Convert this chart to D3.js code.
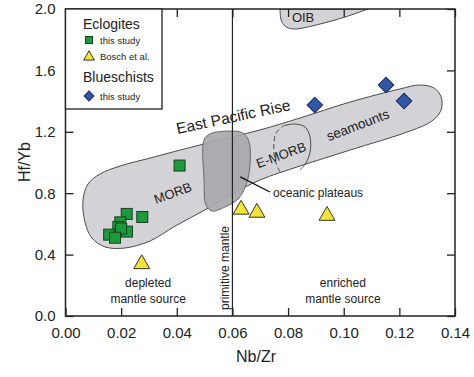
<!DOCTYPE html>
<html lang="en">
<head>
<meta charset="utf-8">
<title>Hf/Yb vs Nb/Zr</title>
<script src="https://cdn.jsdelivr.net/npm/d3@7"></script>
<style>
  body { margin: 0; background: #fff; }
  text { font-family: "Liberation Sans", Arial, sans-serif; fill: #222; }
</style>
</head>
<body>
<script>
var w = 474, h = 377;
var margin = {left: 65.5, right: 19, top: 9, bottom: 61};

// tick values
var xTicks = [0, 0.02, 0.04, 0.06, 0.08, 0.10, 0.12, 0.14];
var yTicks = [0, 0.4, 0.8, 1.2, 1.6, 2.0];

// samples [Nb/Zr, Hf/Yb]
var eclogites = [[0.041, 0.98], [0.022, 0.665], [0.0276, 0.645], [0.0197, 0.61],
                 [0.0190, 0.58], [0.0221, 0.55], [0.0157, 0.53], [0.0200, 0.57], [0.0178, 0.51]];
var bosch = [[0.0274, 0.345], [0.0631, 0.70], [0.0688, 0.68], [0.094, 0.66]];
var blueschists = [[0.0896, 1.375], [0.1152, 1.505], [0.1217, 1.40]];

// field outlines
var eprField = [[0.0081, 0.86], [0.0124, 0.925], [0.0196, 0.977], [0.0304, 1.029], [0.0412, 1.081],
                [0.0555, 1.147], [0.0699, 1.212], [0.0843, 1.29], [0.1023, 1.394], [0.1202, 1.479],
                [0.1274, 1.505], [0.1325, 1.485], [0.135, 1.427], [0.135, 1.342], [0.1317, 1.27],
                [0.1238, 1.205], [0.1023, 1.081], [0.0843, 0.977], [0.0699, 0.886], [0.0591, 0.788],
                [0.0501, 0.691], [0.0394, 0.586], [0.0304, 0.489], [0.0214, 0.443], [0.0142, 0.45],
                [0.0095, 0.508], [0.007, 0.612], [0.0063, 0.756]];
var plateauField = [[0.0498, 1.147], [0.0519, 1.186], [0.0591, 1.205], [0.0638, 1.192], [0.066, 1.134],
                    [0.0663, 0.984], [0.0649, 0.853], [0.062, 0.762], [0.0573, 0.71], [0.0527, 0.684],
                    [0.0505, 0.723], [0.0498, 0.886]];
var emorbDashed = [[0.0771, 0.938], [0.0753, 1.016], [0.0749, 1.114], [0.0757, 1.192], [0.0782, 1.238]];
var emorbSolid = [[0.0782, 1.238], [0.0825, 1.251], [0.0861, 1.231], [0.0879, 1.166],
                  [0.0879, 1.068], [0.0864, 0.997], [0.0843, 0.951]];
var oibField = [[0.0771, 2.0], [0.0775, 1.928], [0.0789, 1.889], [0.0818, 1.87],
                [0.0915, 1.902], [0.1005, 1.948], [0.1087, 2.0]];
var plateauLeader = [[0.0628, 0.906], [0.0735, 0.808]];
var primitiveMantle = 0.06;

var xScale = d3.scaleLinear().domain([0, 0.14]).range([margin.left, w - margin.right]);
var yScale = d3.scaleLinear().domain([0, 2.0]).range([h - margin.bottom, margin.top]);

var svg = d3.select("body").append("svg")
    .attr("width", w)
    .attr("height", h);

svg.append("defs").append("clipPath").attr("id", "plot")
    .append("rect")
    .attr("x", xScale(0)).attr("y", yScale(2))
    .attr("width", xScale(0.14) - xScale(0))
    .attr("height", yScale(0) - yScale(2));

var fields = svg.append("g").attr("clip-path", "url(#plot)");

var closedLine = d3.line()
    .x(function(d){ return xScale(d[0]); })
    .y(function(d){ return yScale(d[1]); })
    .curve(d3.curveCatmullRomClosed.alpha(0.5));
var openLine = d3.line()
    .x(function(d){ return xScale(d[0]); })
    .y(function(d){ return yScale(d[1]); })
    .curve(d3.curveCatmullRom.alpha(0.5));

fields.append("path")
    .attr("d", closedLine(eprField))
    .attr("fill", "#d3d3d7")
    .attr("stroke", "#4a4a4a")
    .attr("stroke-width", 1);

fields.append("path")
    .attr("d", closedLine(plateauField))
    .attr("fill", "#a7a7ad")
    .attr("fill-opacity", 0.92)
    .attr("stroke", "#6a6a6e")
    .attr("stroke-width", 1);

fields.append("path")
    .attr("d", openLine(emorbDashed))
    .attr("fill", "none")
    .attr("stroke", "#4a4a4a")
    .attr("stroke-dasharray", "5,3");
fields.append("path")
    .attr("d", openLine(emorbSolid))
    .attr("fill", "none")
    .attr("stroke", "#4a4a4a");

fields.append("path")
    .attr("d", openLine(oibField) + "Z")
    .attr("fill", "#d3d3d7")
    .attr("stroke", "#4a4a4a");

// primitive mantle line
svg.append("line")
    .attr("x1", xScale(primitiveMantle)).attr("x2", xScale(primitiveMantle))
    .attr("y1", yScale(0)).attr("y2", yScale(2))
    .attr("stroke", "#222")
    .attr("stroke-width", 1.2);

svg.append("line")
    .attr("x1", xScale(plateauLeader[0][0])).attr("y1", yScale(plateauLeader[0][1]))
    .attr("x2", xScale(plateauLeader[1][0])).attr("y2", yScale(plateauLeader[1][1]))
    .attr("stroke", "#111")
    .attr("stroke-width", 1.3);

// axes, ticks pointing inward
var fmtX = d3.format(".2f"), fmtY = d3.format(".1f");
var axisB = svg.append("g")
    .attr("transform", "translate(0," + yScale(0) + ")")
    .call(d3.axisBottom(xScale).tickValues(xTicks).tickFormat(fmtX).tickSizeInner(-8).tickSizeOuter(0).tickPadding(11));
var axisL = svg.append("g")
    .attr("transform", "translate(" + xScale(0) + ",0)")
    .call(d3.axisLeft(yScale).tickValues(yTicks).tickFormat(fmtY).tickSizeInner(-8).tickSizeOuter(0).tickPadding(10));
var axisT = svg.append("g")
    .attr("transform", "translate(0," + yScale(2) + ")")
    .call(d3.axisTop(xScale).tickValues(xTicks).tickFormat("").tickSizeInner(-8).tickSizeOuter(0));
var axisR = svg.append("g")
    .attr("transform", "translate(" + xScale(0.14) + ",0)")
    .call(d3.axisRight(yScale).tickValues(yTicks).tickFormat("").tickSizeInner(-8).tickSizeOuter(0));

[axisB, axisL, axisT, axisR].forEach(function(a){
    a.select(".domain").remove();
    a.selectAll("line").attr("stroke", "#222").attr("stroke-width", 1.3);
    a.selectAll("text").attr("font-size", "15px").attr("fill", "#222")
        .attr("font-family", "'Liberation Sans', Arial, sans-serif");
});

svg.append("rect")
    .attr("x", xScale(0)).attr("y", yScale(2))
    .attr("width", xScale(0.14) - xScale(0))
    .attr("height", yScale(0) - yScale(2))
    .attr("fill", "none")
    .attr("stroke", "#222")
    .attr("stroke-width", 1.5);

// markers
var tri = d3.symbol().type(d3.symbolTriangle).size(110);
var sq = 11;

svg.selectAll("rect.ecl")
    .data(eclogites)
    .enter()
    .append("rect")
    .attr("class", "ecl")
    .attr("x", function(d){ return xScale(d[0]) - sq / 2; })
    .attr("y", function(d){ return yScale(d[1]) - sq / 2; })
    .attr("width", sq).attr("height", sq)
    .attr("fill", "#1e9a3e")
    .attr("stroke", "#16401c")
    .attr("stroke-width", 1);

svg.selectAll("path.bosch")
    .data(bosch)
    .enter()
    .append("path")
    .attr("class", "bosch")
    .attr("d", tri)
    .attr("transform", function(d){ return "translate(" + xScale(d[0]) + "," + (yScale(d[1]) + 1) + ")"; })
    .attr("fill", "#f4e436")
    .attr("stroke", "#333")
    .attr("stroke-width", 1);

svg.selectAll("rect.blue")
    .data(blueschists)
    .enter()
    .append("rect")
    .attr("class", "blue")
    .attr("x", -5.5).attr("y", -5.5)
    .attr("width", 11).attr("height", 11)
    .attr("transform", function(d){ return "translate(" + xScale(d[0]) + "," + yScale(d[1]) + ") rotate(45)"; })
    .attr("fill", "#3257a6")
    .attr("stroke", "#1b2b5a")
    .attr("stroke-width", 1);

// field labels
function label(txt, x, y, size, angle, anchor, dy) {
    var px = xScale(x), py = yScale(y);
    svg.append("text")
        .attr("x", px).attr("y", py)
        .attr("dy", dy || 0)
        .attr("text-anchor", anchor || "middle")
        .attr("font-size", size + "px")
        .attr("transform", angle ? "rotate(" + angle + "," + px + "," + py + ")" : null)
        .text(txt);
}
label("East Pacific Rise", 0.0607, 1.264, 15.5, -12);
label("MORB", 0.0386, 0.801, 13, -20, "middle", "0.35em");
label("E-MORB", 0.0775, 1.049, 13, -20, "middle", "0.35em");
label("seamounts", 0.1051, 1.244, 13.5, -21, "middle", "0.35em");
label("oceanic plateaus", 0.0746, 0.775, 12, 0, "start");
label("OIB", 0.0854, 1.948, 13, 0, "middle", "0.35em");
label("primitive mantle", 0.0589, 0.313, 12, -90);
label("depleted", 0.0297, 0.191, 12);
label("mantle source", 0.0297, 0.085, 12);
label("enriched", 0.0997, 0.191, 12);
label("mantle source", 0.0997, 0.085, 12);

// axis titles
svg.append("text")
    .attr("x", 256).attr("y", 362)
    .attr("text-anchor", "middle")
    .attr("font-size", "16px")
    .text("Nb/Zr");
svg.append("text")
    .attr("transform", "translate(30,162) rotate(-90)")
    .attr("text-anchor", "middle")
    .attr("font-size", "16px")
    .text("Hf/Yb");

// legend
var lg = svg.append("g");
lg.append("rect")
    .attr("x", xScale(0)).attr("y", yScale(2))
    .attr("width", 96.5).attr("height", 100)
    .attr("fill", "#fff")
    .attr("stroke", "#222")
    .attr("stroke-width", 1.3);
lg.append("text").attr("x", 83).attr("y", 29).attr("font-size", "14px").text("Eclogites");
lg.append("rect").attr("x", 85.5).attr("y", 36.5).attr("width", 7).attr("height", 7)
    .attr("fill", "#1e9a3e").attr("stroke", "#16401c");
lg.append("text").attr("x", 100).attr("y", 44).attr("font-size", "9.5px").text("this study");
lg.append("path").attr("d", d3.symbol().type(d3.symbolTriangle).size(50))
    .attr("transform", "translate(89,57)")
    .attr("fill", "#f4e436").attr("stroke", "#333");
lg.append("text").attr("x", 100).attr("y", 60).attr("font-size", "9.5px").text("Bosch et al.");
lg.append("text").attr("x", 83).attr("y", 82).attr("font-size", "14px").text("Blueschists");
lg.append("rect").attr("x", -3.5).attr("y", -3.5).attr("width", 7).attr("height", 7)
    .attr("transform", "translate(89,96) rotate(45)")
    .attr("fill", "#3257a6").attr("stroke", "#1b2b5a");
lg.append("text").attr("x", 100).attr("y", 100).attr("font-size", "9.5px").text("this study");
</script>
</body>
</html>
